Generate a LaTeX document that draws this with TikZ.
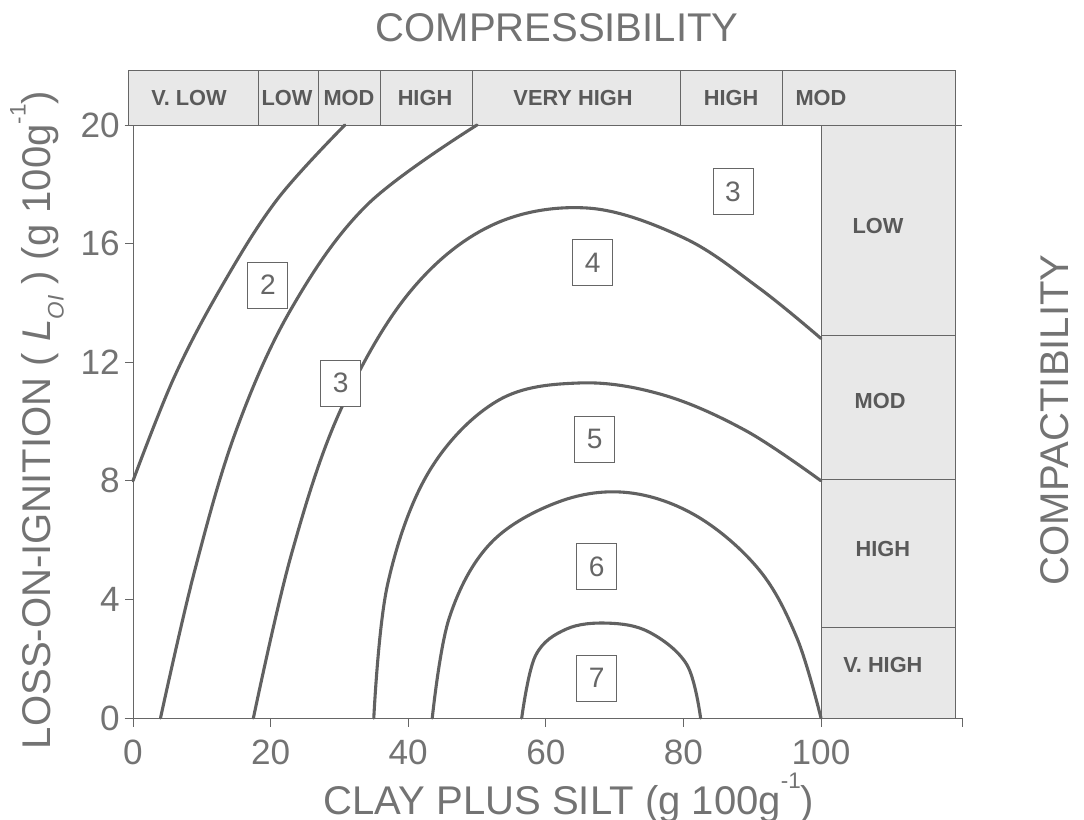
\documentclass[tikz,border=0pt]{standalone}
\usepackage{fontspec}
\setmainfont{Liberation Sans}
\begin{document}
\begin{tikzpicture}[
  ink/.style={draw=black!60, line width=0.6pt},
  curve/.style={draw=black!62, line width=2.2pt, line cap=round},
  cell/.style={draw=black!60, fill=black!9, line width=0.6pt},
  band/.style={font=\bfseries\fontsize{15.5}{18}\selectfont, text=black!65},
  tick/.style={font=\fontsize{25}{28}\selectfont, text=black!55},
  big/.style={font=\fontsize{28.5}{32}\selectfont, text=black!55},
  lab/.style={draw=black!60, fill=white, line width=0.6pt, minimum width=1cm, minimum height=1.15cm, inner sep=0pt, font=\fontsize{20}{22}\selectfont, text=black!60}
]
\useasboundingbox (-3.325,-2.55) rectangle (23.775,17.95);
% top band
\foreach \a/\b in {-0.125/3.125,3.125/4.625,4.625/6.175,6.175/8.475,8.475/13.675,13.675/16.225,16.225/20.55}
  \path[cell] (\a,14.825) rectangle (\b,16.2);
\node[band] (c1) at (1.4,15.5) {V. LOW};
\node[band] (c2) at (3.85,15.5) {LOW};
\node[band] (c3) at (5.4,15.5) {MOD};
\node[band] (c4) at (7.3,15.5) {HIGH};
\node[band] (c5) at (11.0,15.5) {VERY HIGH};
\node[band] (c6) at (14.95,15.5) {HIGH};
\node[band] (c7) at (17.2,15.5) {MOD};
\begin{scope}[x=0.172cm,y=0.74125cm]
% right band
\foreach \a/\b in {0/3.04,3.04/8.03,8.03/12.9,12.9/20}
  \path[cell] (100,\a) rectangle (119.6,\b);
\node[band] (r1) at (108.3,16.6) {LOW};
\node[band] (r2) at (108.6,10.7) {MOD};
\node[band] (r3) at (109,5.7) {HIGH};
\node[band] (r4) at (109,1.8) {V. HIGH};
% axes
\draw[ink] (-1.2,0) -- (120.5,0);
\draw[ink] (0,0) -- (0,20);
\draw[ink] (-1.2,20) -- (120.5,20);
\foreach \x in {0,20,40,60,80,100} {\draw[ink] (\x,0) -- (\x,-0.3); \node[tick] (xt\x) at (\x,-1.15) {\x};}
\draw[ink] (120.5,0) -- (120.5,-0.3);
\foreach \y in {0,4,8,12,16,20} {\draw[ink] (0,\y) -- (-1.2,\y); \node[tick,anchor=east] (yt\y) at (-1.2,\y) {\y};}
% curves
\draw[curve] plot[smooth,tension=0.6] coordinates {(0,8) (6,11.5) (13,14.6) (21,17.5) (30.8,20)};
\draw[curve] plot[smooth,tension=0.6] coordinates {(4,0) (9,5) (15,9.7) (23,13.8) (34,17.3) (50,20)};
\draw[curve] plot[smooth,tension=0.6] coordinates {(17.5,0) (23,5.5) (30,10.3) (40,14.3) (52,16.6) (66,17.2) (80,16.2) (91,14.5) (100,12.8)};
\draw[curve] plot[smooth,tension=0.6] coordinates {(35,0) (37,4.5) (43,8.3) (53,10.7) (65,11.3) (77,10.9) (89,9.7) (100,8)};
\draw[curve] plot[smooth,tension=0.6] coordinates {(43.5,0) (46,3.4) (52,5.9) (62,7.3) (72,7.6) (82,6.8) (91,5) (96.5,2.7) (100,0)};
\draw[curve] plot[smooth,tension=0.6] coordinates {(56.5,0) (58.5,2.1) (63,3) (69,3.2) (75,2.9) (80.5,1.8) (82.5,0)};
% labels
\node[lab] (l2) at (19.6,14.6) {2};
\node[lab] (l3a) at (30.2,11.3) {3};
\node[lab] (l4) at (66.8,15.35) {4};
\node[lab] (l5) at (67.1,9.4) {5};
\node[lab] (l6) at (67.4,5.1) {6};
\node[lab] (l7) at (67.4,1.35) {7};
\node[lab] (l3b) at (87.2,17.75) {3};
\end{scope}
\node[big] (tt) at (10.6,17.25) {COMPRESSIBILITY};
\node[big] (xl) at (10.9,-2.0) {CLAY PLUS SILT (g 100g\raisebox{1.2ex}{\fontsize{16}{18}\selectfont -1})};
\node[big,rotate=90] (yl) at (-2.4,7.45) {LOSS-ON-IGNITION ( \textit{L}\raisebox{-0.6ex}{\fontsize{16}{18}\selectfont\textit{OI}} ) (g 100g\raisebox{1.2ex}{\fontsize{16}{18}\selectfont -1})};
\node[big,rotate=90] (cl) at (23.05,7.45) {COMPACTIBILITY};
\end{tikzpicture}
\end{document}
